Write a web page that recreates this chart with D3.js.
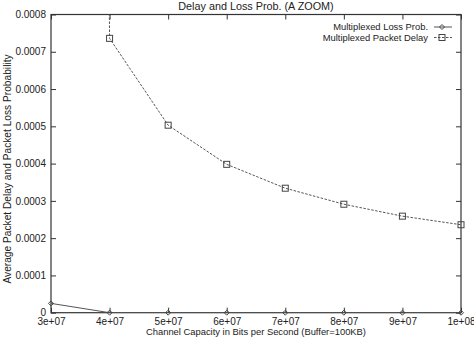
<!DOCTYPE html>
<html>
<head>
<meta charset="utf-8">
<script src="https://cdn.jsdelivr.net/npm/d3@7"></script>
<style>
  html, body { margin: 0; padding: 0; background: #fff; }
  svg text { font-family: "Liberation Sans", Arial, Helvetica, sans-serif; fill: #222; }
</style>
</head>
<body>
<svg id="chart" width="474" height="337"></svg>
<script>
// Channel capacities (bits per second)
const capacity = [3e7, 4e7, 5e7, 6e7, 7e7, 8e7, 9e7, 1e8];
// Multiplexed loss probability per capacity
const lossProb = [0.000025, 0, 0, 0, 0, 0, 0, 0];
// Multiplexed average packet delay per capacity (first value runs far off the zoomed range)
const packetDelay = [0.02, 0.000736, 0.000503, 0.000398, 0.000334, 0.000291, 0.000259, 0.000236];

const xTickValues = [3e7, 4e7, 5e7, 6e7, 7e7, 8e7, 9e7, 1e8];
const xTickLabels = ["3e+07", "4e+07", "5e+07", "6e+07", "7e+07", "8e+07", "9e+07", "1e+08"];
const yTickValues = [0, 0.0001, 0.0002, 0.0003, 0.0004, 0.0005, 0.0006, 0.0007, 0.0008];
const yTickLabels = ["0", "0.0001", "0.0002", "0.0003", "0.0004", "0.0005", "0.0006", "0.0007", "0.0008"];

const svg = d3.select("#chart");
const margin = { left: 51, right: 13, top: 14.5, bottom: 24.3 };
const W = 474, H = 337;
const x0 = margin.left, x1 = W - margin.right, y0 = H - margin.bottom, y1 = margin.top;

const x = d3.scaleLinear().domain([3e7, 1e8]).range([x0, x1]);
const y = d3.scaleLinear().domain([0, 0.0008]).range([y0, y1]);

// clip region for the plotted series
svg.append("defs").append("clipPath").attr("id", "plotClip")
  .append("rect").attr("x", x0).attr("y", y1).attr("width", x1 - x0).attr("height", y0 - y1);

const tickLen = 5;
const tickFont = 10;

// Axes: inward ticks on all four sides
const axBottom = svg.append("g").attr("transform", `translate(0,${y0})`)
  .call(d3.axisBottom(x).tickValues(xTickValues).tickSize(-tickLen).tickPadding(tickLen + 2)
    .tickFormat((d, i) => xTickLabels[i]));
const axTop = svg.append("g").attr("transform", `translate(0,${y1})`)
  .call(d3.axisTop(x).tickValues(xTickValues).tickSize(-tickLen).tickFormat(""));
const axLeft = svg.append("g").attr("transform", `translate(${x0},0)`)
  .call(d3.axisLeft(y).tickValues(yTickValues).tickSize(-tickLen).tickPadding(tickLen + 0)
    .tickFormat((d, i) => yTickLabels[i]));
const axRight = svg.append("g").attr("transform", `translate(${x1},0)`)
  .call(d3.axisRight(y).tickValues(yTickValues).tickSize(-tickLen).tickFormat(""));

[axBottom, axTop, axLeft, axRight].forEach(g => {
  g.select(".domain").remove();
  g.selectAll(".tick line").attr("stroke", "#333").attr("stroke-width", 1);
  g.selectAll(".tick text").attr("font-size", tickFont).attr("fill", "#222")
    .style("font-family", "'Liberation Sans', Arial, sans-serif");
});
axBottom.selectAll(".tick text").attr("dy", "0.5em");

// Frame
svg.append("rect").attr("x", x0).attr("y", y1).attr("width", x1 - x0).attr("height", y0 - y1)
  .attr("fill", "none").attr("stroke", "#333").attr("stroke-width", 1.2);

const plot = svg.append("g").attr("clip-path", "url(#plotClip)");

// Loss probability: solid line with diamond markers
const lossData = capacity.map((c, i) => [c, lossProb[i]]);
const line = d3.line().x(d => x(d[0])).y(d => y(d[1]));
plot.append("path").datum(lossData).attr("d", line)
  .attr("fill", "none").attr("stroke", "#555").attr("stroke-width", 1);

// Packet delay: dashed line with square markers
const delayData = capacity.map((c, i) => [c, packetDelay[i]]);
plot.append("path").datum(delayData).attr("d", line)
  .attr("fill", "none").attr("stroke", "#555").attr("stroke-width", 1).attr("stroke-dasharray", "2.5,1.5");

const diamond = (g, cx, cy) => g.append("path")
  .attr("d", `M${cx},${cy - 2.5}L${cx + 2.5},${cy}L${cx},${cy + 2.5}L${cx - 2.5},${cy}Z`)
  .attr("fill", "none").attr("stroke", "#444").attr("stroke-width", 1);
const square = (g, cx, cy) => g.append("rect")
  .attr("x", cx - 3).attr("y", cy - 3).attr("width", 6).attr("height", 6)
  .attr("fill", "none").attr("stroke", "#444").attr("stroke-width", 1);

const markers = svg.append("g");
lossData.forEach(d => { if (y(d[1]) >= y1 - 0.5) diamond(markers, x(d[0]), y(d[1])); });
delayData.forEach(d => { if (y(d[1]) >= y1 - 0.5) square(markers, x(d[0]), y(d[1])); });

// Legend
const legend = svg.append("g");
const legTextX = 428, legL0 = 434, legL1 = 452;
const legRows = [
  { label: "Multiplexed Loss Prob.", dash: null, mark: diamond, yy: 27 },
  { label: "Multiplexed Packet Delay", dash: "2.5,1.5", mark: square, yy: 37.5 }
];
legRows.forEach(r => {
  legend.append("text").attr("x", legTextX).attr("y", r.yy).attr("dy", "0.35em")
    .attr("text-anchor", "end").attr("font-size", 9.4).text(r.label);
  legend.append("line").attr("x1", legL0).attr("x2", legL1).attr("y1", r.yy).attr("y2", r.yy)
    .attr("stroke", "#555").attr("stroke-width", 1).attr("stroke-dasharray", r.dash);
  r.mark(legend, (legL0 + legL1) / 2 - 1, r.yy);
});

// Title and axis labels
svg.append("text").attr("x", (x0 + x1) / 2).attr("y", 6.5).attr("dy", "0.32em")
  .attr("text-anchor", "middle").attr("font-size", 10.8).text("Delay and Loss Prob. (A ZOOM)");
svg.append("text").attr("x", (x0 + x1) / 2).attr("y", 332.3).attr("dy", "0.32em")
  .attr("text-anchor", "middle").attr("font-size", 9.4)
  .text("Channel Capacity in Bits per Second (Buffer=100KB)");
svg.append("text").attr("transform", `translate(8,169) rotate(-90)`)
  .attr("dy", "0.32em").attr("text-anchor", "middle").attr("font-size", 10.2)
  .text("Average Packet Delay and Packet Loss Probability");
</script>
</body>
</html>
